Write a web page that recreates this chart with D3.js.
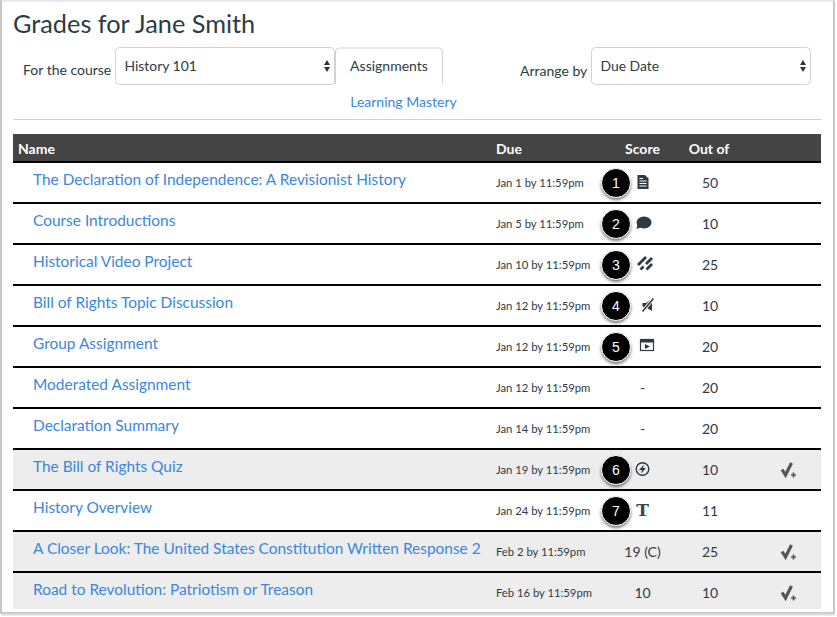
<!DOCTYPE html>
<html>
<head>
<meta charset="utf-8">
<title>Grades for Jane Smith</title>
<script src="https://cdn.jsdelivr.net/npm/d3@7"></script>
<style>
    html, body { margin: 0; padding: 0; background: #fff; }
    svg { display: block; font-family: Lato, sans-serif; }
</style>
</head>
<body>
<div id="page"></div>
<script>
var assignmentNames = [
    "The Declaration of Independence: A Revisionist History",
    "Course Introductions",
    "Historical Video Project",
    "Bill of Rights Topic Discussion",
    "Group Assignment",
    "Moderated Assignment",
    "Declaration Summary",
    "The Bill of Rights Quiz",
    "History Overview",
    "A Closer Look: The United States Constitution Written Response 2",
    "Road to Revolution: Patriotism or Treason"
];
var dueDates = [
    "Jan 1 by 11:59pm", "Jan 5 by 11:59pm", "Jan 10 by 11:59pm", "Jan 12 by 11:59pm",
    "Jan 12 by 11:59pm", "Jan 12 by 11:59pm", "Jan 14 by 11:59pm", "Jan 19 by 11:59pm",
    "Jan 24 by 11:59pm", "Feb 2 by 11:59pm", "Feb 16 by 11:59pm"
];
var scores = ["", "", "", "", "", "-", "-", "", "", "19 (C)", "10"];
var outOf = [50, 10, 25, 10, 20, 20, 20, 10, 11, 25, 10];
var scoreIcons = ["doc", "bubble", "stripes", "muted", "video", null, null, "bolt", "text", null, null];
var callouts = [1, 2, 3, 4, 5, null, null, 6, 7, null, null];
var graded = [false, false, false, false, false, false, false, true, false, true, true];
var columnNames = ["Name", "Due", "Score", "Out of", "Check"];

var width = 837, height = 617;
var linkBlue = "#3b86e0", ink = "#2d3b45", bar = "#444444";

var svg = d3.select("#page").append("svg")
    .attr("width", width)
    .attr("height", height);

// screenshot frame
svg.append("rect").attr("x", 1).attr("y", 0.5).attr("width", 833).attr("height", 612.5)
    .attr("fill", "#fff").attr("stroke", "#b4b4b4").attr("stroke-width", 1.5);
svg.append("line").attr("x1", 1).attr("x2", 835).attr("y1", 614.5).attr("y2", 614.5)
    .attr("stroke", "#dddddd").attr("stroke-width", 2);
svg.append("line").attr("x1", 1).attr("x2", 834).attr("y1", 0.5).attr("y2", 0.5)
    .attr("stroke", "#e6e6e6").attr("stroke-width", 1);

function label(parent, x, y, text, size, fill, anchor, weight) {
    return parent.append("text")
        .attr("x", x).attr("y", y)
        .attr("font-size", size)
        .attr("fill", fill)
        .attr("text-anchor", anchor || "start")
        .attr("font-weight", weight || 400)
        .text(text);
}

function selectBox(x, y, w, h, text) {
    svg.append("rect").attr("x", x + 0.5).attr("y", y + 0.5).attr("width", w).attr("height", h)
        .attr("rx", 4).attr("fill", "#fff").attr("stroke", "#cfd3d6");
    label(svg, x + 9.5, y + 24, text, 13.9, ink);
    var ax = x + w - 7;
    svg.append("path")
        .attr("d", "M" + (ax - 3) + "," + (y + 18) + "l3,-5l3,5zM" + (ax - 3) + "," + (y + 20) + "l3,5l3,-5z")
        .attr("fill", "#333");
}

// top controls
label(svg, 13, 33, "Grades for Jane Smith", 25.3, ink);
label(svg, 23, 75, "For the course", 14, ink);
selectBox(115, 47, 219, 37, "History 101");
svg.append("path").attr("d", "M335.5,84V52q0,-4 4,-4H439q3.5,0 3.5,4V84")
    .attr("fill", "#fff").attr("stroke", "#cfd3d6");
label(svg, 389, 71, "Assignments", 14, ink, "middle");
label(svg, 403.5, 107, "Learning Mastery", 14, linkBlue, "middle");
label(svg, 520, 75.5, "Arrange by", 14, ink);
selectBox(591, 47, 219, 37, "Due Date");
svg.append("line").attr("x1", 13).attr("x2", 821).attr("y1", 119.5).attr("y2", 119.5)
    .attr("stroke", "#cfd3d6");

// table scales
var tableLeft = 13, tableRight = 821, rowTop = 163, rowStep = 41;
var y = d3.scaleBand()
    .domain(d3.range(assignmentNames.length))
    .range([rowTop, rowTop + rowStep * assignmentNames.length])
    .paddingInner(0);
var colX = d3.scaleOrdinal()
    .domain(columnNames)
    .range([18, 496, 642.5, 709, 788]);

// header
svg.append("rect").attr("x", tableLeft).attr("y", 134)
    .attr("width", tableRight - tableLeft).attr("height", 27).attr("fill", bar);
svg.append("rect").attr("x", tableLeft).attr("y", 161)
    .attr("width", tableRight - tableLeft).attr("height", 2).attr("fill", "#000");
columnNames.slice(0, 4).forEach(function (c, i) {
    label(svg, colX(c), 153.5, c, 14, "#fff", i < 2 ? "start" : "middle", 700);
});

// rows
var rows = svg.selectAll("g.row")
    .data(assignmentNames)
    .enter()
    .append("g")
    .attr("class", "row")
    .attr("transform", function (d, i) { return "translate(0," + y(i) + ")"; });

rows.append("rect")
    .attr("x", tableLeft)
    .attr("width", tableRight - tableLeft)
    .attr("height", function (d, i) { return i === assignmentNames.length - 1 ? 36 : y.bandwidth() - 2; })
    .attr("fill", function (d, i) { return graded[i] ? "#ededed" : "#fff"; });

rows.filter(function (d, i) { return i < assignmentNames.length - 1; })
    .append("rect")
    .attr("x", tableLeft)
    .attr("y", y.bandwidth() - 2)
    .attr("width", tableRight - tableLeft)
    .attr("height", 2)
    .attr("fill", "#000");

rows.append("text")
    .attr("x", 33)
    .attr("y", 22)
    .attr("font-size", 15.45)
    .attr("fill", linkBlue)
    .text(function (d) { return d; });

rows.append("text")
    .attr("x", colX("Due"))
    .attr("y", 23.5)
    .attr("font-size", 11.25)
    .attr("fill", ink)
    .text(function (d, i) { return dueDates[i]; });

rows.append("text")
    .attr("x", colX("Score"))
    .attr("y", 25)
    .attr("font-size", 14)
    .attr("text-anchor", "middle")
    .attr("fill", ink)
    .text(function (d, i) { return scores[i]; });

rows.append("text")
    .attr("x", colX("Out of") + 1)
    .attr("y", 25)
    .attr("font-size", 14)
    .attr("text-anchor", "middle")
    .attr("fill", ink)
    .text(function (d, i) { return outOf[i]; });

// score type icons, each drawn around its own centre
var iconOffsets = {
    doc: [643, 19], bubble: [644, 18.5], stripes: [645, 18], muted: [648, 19],
    video: [647, 18], bolt: [642.5, 19], text: [642.5, 18]
};
var icons = {
    doc: function (g) {
        g.append("path").attr("d", "M-5.5,-7H2L5.5,-3.5V7H-5.5Z").attr("fill", ink);
        g.append("path").attr("d", "M-3.5,-1H3.5M-3.5,1.5H3.5M-3.5,4H3.5").attr("stroke", "#fff").attr("stroke-width", 1);
        g.append("path").attr("d", "M-3.5,-3.5H0").attr("stroke", "#fff").attr("stroke-width", 1);
    },
    bubble: function (g) {
        g.append("ellipse").attr("rx", 7.5).attr("ry", 6).attr("fill", ink);
        g.append("path").attr("d", "M-6.5,2L-7.5,6.5L-2,4.5Z").attr("fill", ink);
    },
    stripes: function (g) {
        g.append("path").attr("d", "M-7,2L1,-6M-4.5,6.5L-1.5,3.5M1,1L7,-5M1.5,6.5L7,1")
            .attr("stroke", ink).attr("stroke-width", 2.8).attr("fill", "none");
    },
    muted: function (g) {
        g.append("path").attr("d", "M-5.5,-2H-2L4,-6V6L-2,2.5H-4.5L-5.5,1Z").attr("fill", ink);
        g.append("path").attr("d", "M-5.5,6.5L5.5,-6.5").attr("stroke", "#fff").attr("stroke-width", 3.4);
        g.append("path").attr("d", "M-5.5,6.5L5.5,-6.5").attr("stroke", ink).attr("stroke-width", 1.6);
    },
    video: function (g) {
        g.append("rect").attr("x", -6.5).attr("y", -5.5).attr("width", 13).attr("height", 11)
            .attr("fill", "none").attr("stroke", ink).attr("stroke-width", 1.2);
        g.append("rect").attr("x", -6.5).attr("y", -5.5).attr("width", 13).attr("height", 3).attr("fill", ink);
        g.append("path").attr("d", "M-2,-1L3,1.5L-2,4Z").attr("fill", ink);
    },
    bolt: function (g) {
        g.append("circle").attr("r", 6.3).attr("fill", "none").attr("stroke", ink).attr("stroke-width", 1.4);
        g.append("path").attr("d", "M1.5,-4.5L-3.5,1H-0.5L-1.5,4.5L3.5,-1H0.5Z").attr("fill", ink);
    },
    text: function (g) {
        g.append("text").attr("y", 6.5).attr("text-anchor", "middle")
            .attr("font-family", "'DejaVu Serif', serif").attr("font-weight", 700)
            .attr("font-size", 17).attr("fill", "#3a4650").text("T");
    }
};

rows.filter(function (d, i) { return scoreIcons[i]; })
    .append("g")
    .each(function (d) {
        var name = scoreIcons[assignmentNames.indexOf(d)];
        var g = d3.select(this)
            .attr("transform", "translate(" + iconOffsets[name][0] + "," + iconOffsets[name][1] + ")");
        icons[name](g);
    });

// grading check marks
rows.filter(function (d, i) { return graded[i]; })
    .append("g")
    .attr("transform", "translate(" + colX("Check") + ",20)")
    .call(function (g) {
        g.append("path").attr("d", "M-6,-0.5L-2.5,5L3.5,-7").attr("fill", "none")
            .attr("stroke", "#555").attr("stroke-width", 3.2);
        g.append("path").attr("d", "M3,5H8M5.5,2.5V7.5").attr("stroke", "#555").attr("stroke-width", 1.6);
    });

// numbered callouts
var shadow = svg.append("defs").append("filter").attr("id", "callout-shadow")
    .attr("x", "-40%").attr("y", "-40%").attr("width", "180%").attr("height", "180%");
shadow.append("feDropShadow").attr("dx", 0).attr("dy", 2).attr("stdDeviation", 1.6)
    .attr("flood-color", "#000").attr("flood-opacity", 0.55);

var badge = rows.filter(function (d, i) { return callouts[i]; })
    .append("g")
    .attr("transform", "translate(616,20)");
badge.append("circle").attr("r", 14.5).attr("fill", "#000").attr("stroke", "#fff")
    .attr("stroke-width", 1).attr("filter", "url(#callout-shadow)");
badge.append("text")
    .attr("text-anchor", "middle")
    .attr("y", 4.5)
    .attr("font-size", 14)
    .attr("font-family", "'Liberation Sans', sans-serif")
    .attr("fill", "#fff")
    .text(function (d) { return callouts[assignmentNames.indexOf(d)]; });
</script>
</body>
</html>
